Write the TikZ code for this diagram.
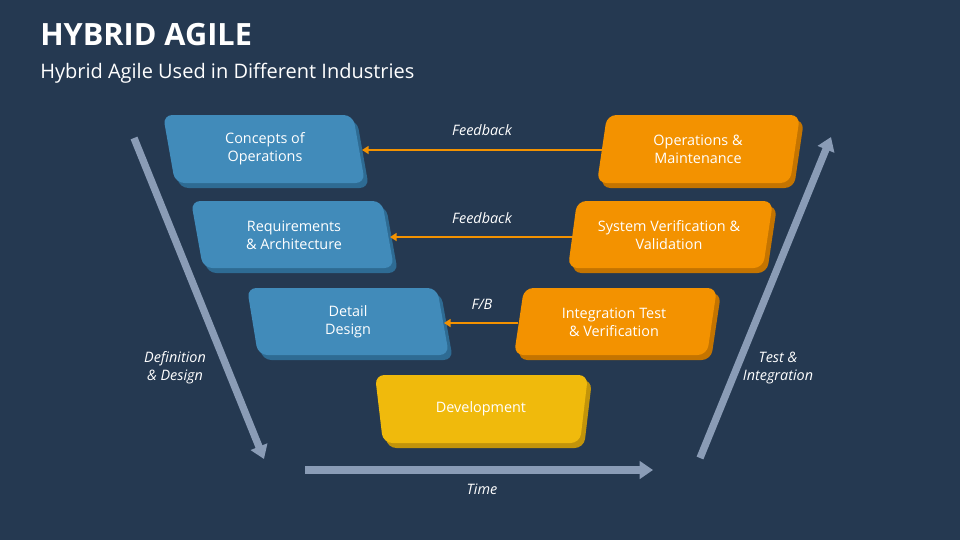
\documentclass[tikz,border=0pt]{standalone}
\usepackage{fontspec}
\setmainfont{Open Sans}
\usetikzlibrary{arrows.meta}
\definecolor{bg}{HTML}{253951}
\definecolor{bl}{HTML}{418BBA}
\definecolor{bld}{HTML}{2E6B93}
\definecolor{or}{HTML}{F39200}
\definecolor{ord}{HTML}{C47400}
\definecolor{ye}{HTML}{F0BA0C}
\definecolor{yed}{HTML}{C2940A}
\definecolor{gr}{HTML}{8A9CB6}
\tikzset{
  lbl/.style={text=white,font=\fontsize{10.8}{13.5}\selectfont,align=center},
  ilbl/.style={text=white,font=\fontsize{10.8}{13.5}\selectfont\itshape,align=center},
  fb/.style={draw=or,line width=2pt,-{Triangle[length=5pt,width=6pt]}},
  big/.style={draw=gr,line width=5.5pt,-{Triangle[length=10pt,width=13pt]}},
  rc/.style={rounded corners=7pt}
}
\begin{document}
\begin{tikzpicture}[x=0.75pt,y=-0.75pt]
\fill[bg] (0,0) rectangle (960,540);
\node[anchor=west,text=white,font=\fontsize{23}{26}\selectfont\bfseries,inner sep=0pt] (t) at (40,35) {HYBRID AGILE};
\node[anchor=west,text=white,font=\fontsize{15}{18}\selectfont,inner sep=0pt] (st) at (40,73) {Hybrid Agile Used in Different Industries};
\foreach \a/\b/\c/\d/\ty/\by in {163/353/175/365/115/183, 191/382/203/394/201/268, 247/437/258/449/288/355}{
  \fill[bld,rc] (\a+4,\ty+5) -- (\b+4,\ty+5) -- (\d+4,\by+5) -- (\c+4,\by+5) -- cycle;
  \fill[bl,rc] (\a,\ty) -- (\b,\ty) -- (\d,\by) -- (\c,\by) -- cycle;
}
\foreach \a/\b/\c/\d/\ty/\by in {607/800/597/790/115/183, 577/773/568/763/201/268, 524/717/514/707/288/355}{
  \fill[ord,rc] (\a+4,\ty+5) -- (\b+4,\ty+5) -- (\d+4,\by+5) -- (\c+4,\by+5) -- cycle;
  \fill[or,rc] (\a,\ty) -- (\b,\ty) -- (\d,\by) -- (\c,\by) -- cycle;
}
\fill[yed,rc] (379,380) -- (592,380) -- (584,448) -- (387,448) -- cycle;
\fill[ye,rc] (375,375) -- (588,375) -- (580,443) -- (383,443) -- cycle;
\node[lbl] (b1) at (265,149) {Concepts of\\Operations};
\node[lbl] (b2) at (294,235) {Requirements\\\& Architecture};
\node[lbl] (b3) at (348,322) {Detail\\Design};
\node[lbl] (o1) at (698,149) {Operations \&\\Maintenance};
\node[lbl] (o2) at (669,235) {System Verification \&\\Validation};
\node[lbl] (o3) at (614,322) {Integration Test\\\& Verification};
\node[lbl] (dev) at (481,409) {Development};
\coordinate (f1s) at (603,150); \coordinate (f1e) at (362,150);
\coordinate (f2s) at (575,237); \coordinate (f2e) at (390,237);
\coordinate (f3s) at (518,323); \coordinate (f3e) at (444,323);
\draw[fb] (f1s) -- (f1e);
\draw[fb] (f2s) -- (f2e);
\draw[fb] (f3s) -- (f3e);
\node[ilbl] (l1) at (482,130) {Feedback};
\node[ilbl] (l2) at (482,218) {Feedback};
\node[ilbl] (l3) at (482,304) {F/B};
\coordinate (a1s) at (134,138); \coordinate (a1e) at (264,459);
\coordinate (a2s) at (700,458); \coordinate (a2e) at (831,137);
\coordinate (a3s) at (305,470); \coordinate (a3e) at (653,470);
\draw[big] (a1s) -- (a1e);
\draw[big] (a2s) -- (a2e);
\draw[big] (a3s) -- (a3e);
\node[ilbl] (dd) at (175,368) {Definition\\\& Design};
\node[ilbl] (ti) at (778,368) {Test \&\\Integration};
\node[ilbl] (tm) at (482,489) {Time};
\end{tikzpicture}
\end{document}
